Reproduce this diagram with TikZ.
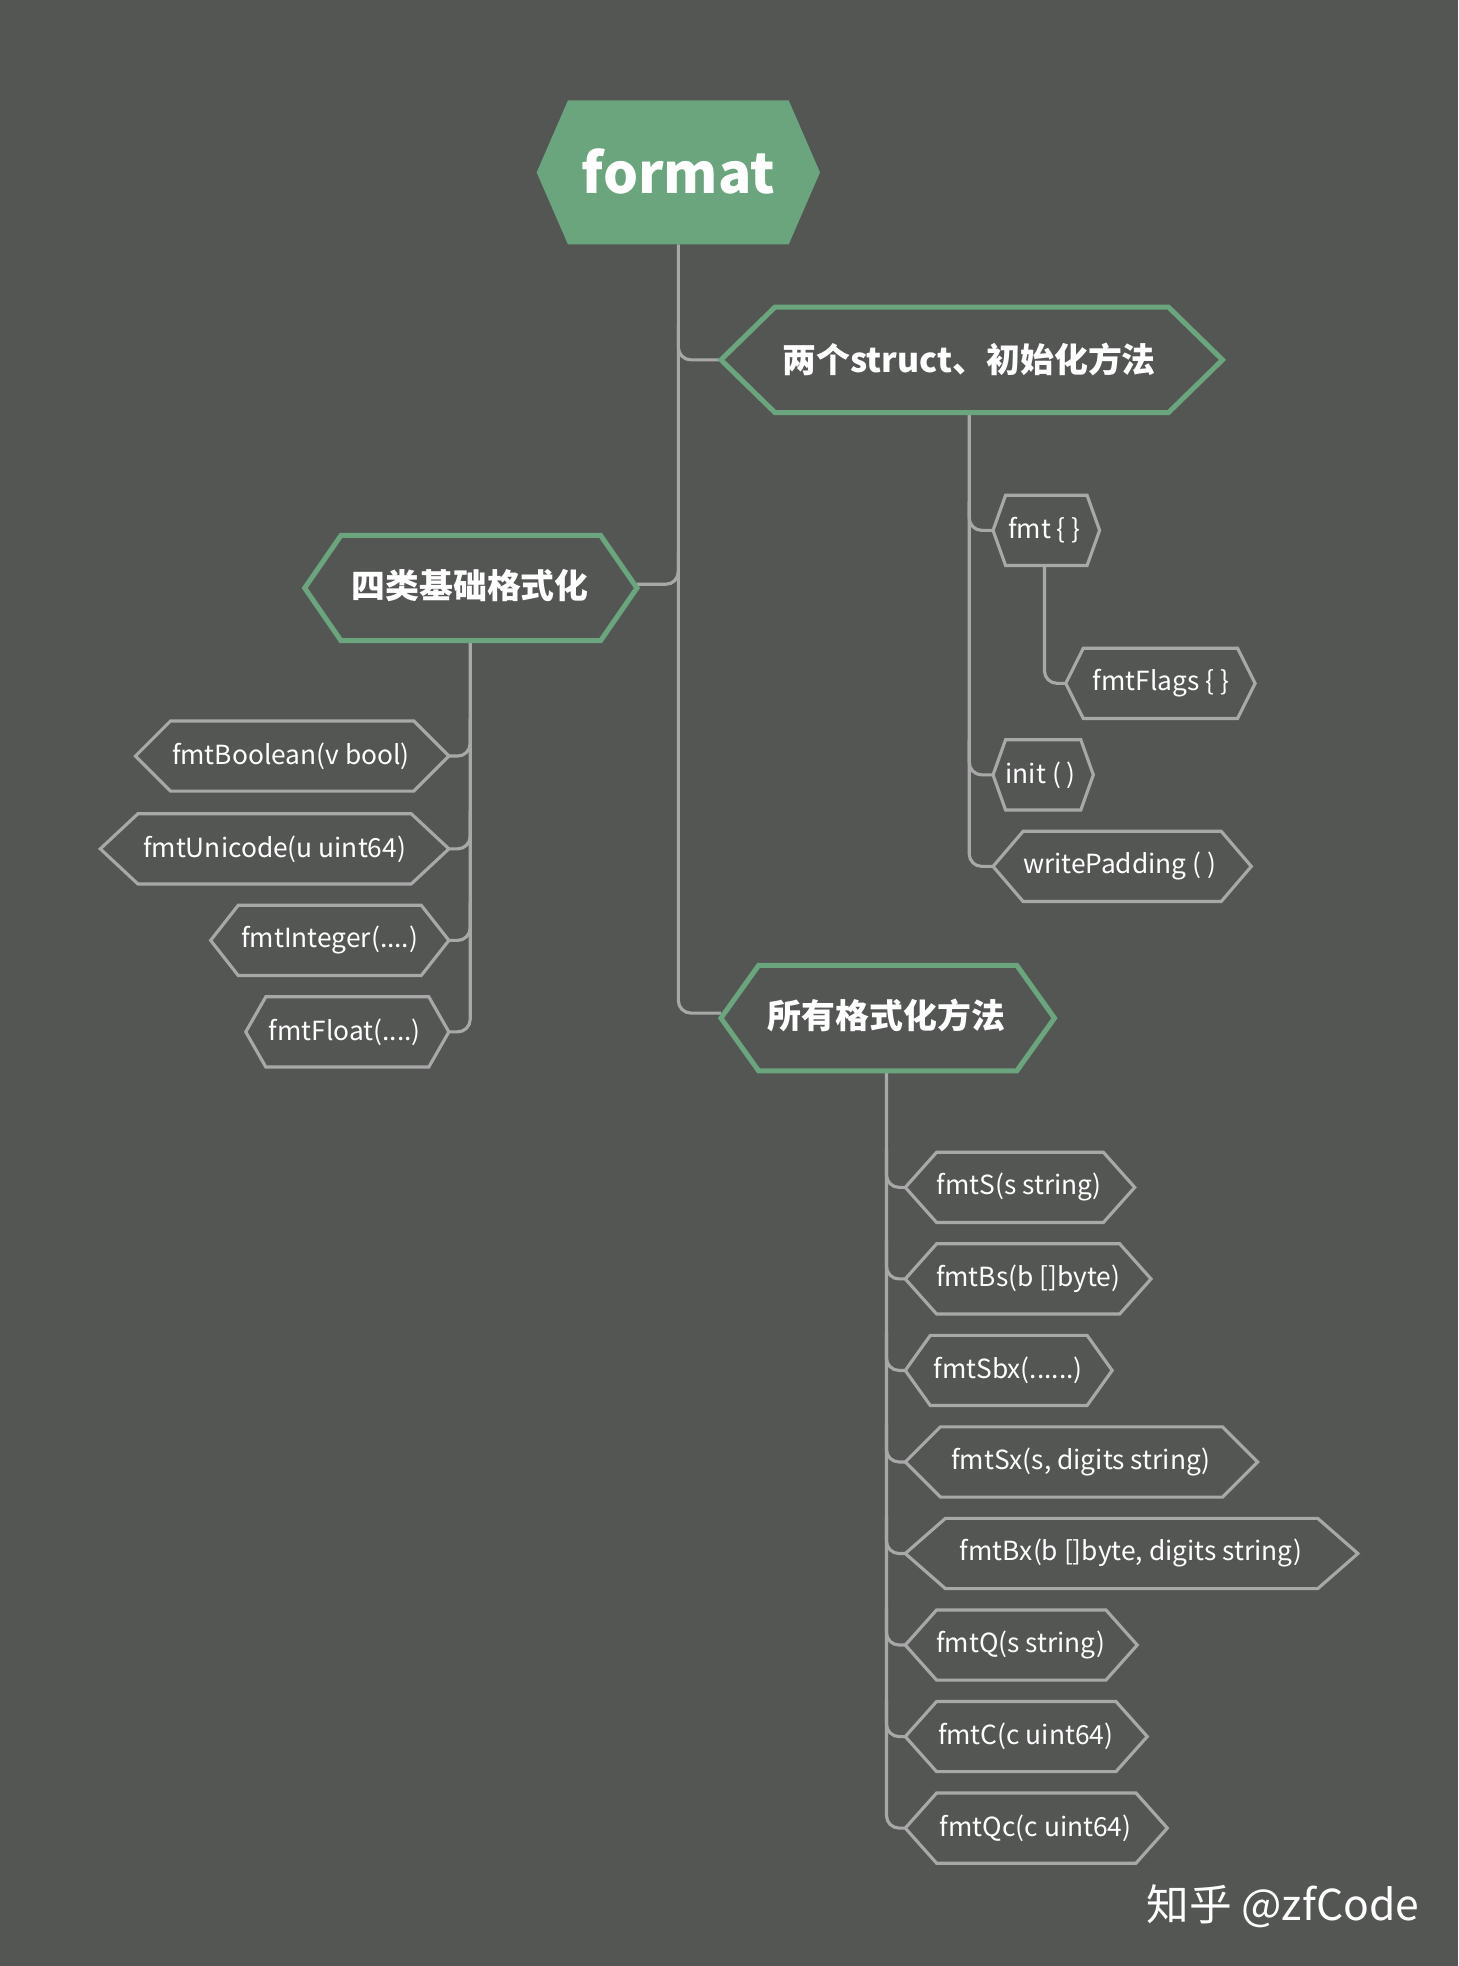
\documentclass[tikz,border=0pt]{standalone}
\usepackage{fontspec}
\setmainfont{Noto Sans CJK SC}
\definecolor{bg}{HTML}{545654}
\definecolor{gr}{HTML}{6AA57D}
\definecolor{ln}{HTML}{A8A8A8}
\begin{document}
\begin{tikzpicture}[x=1pt,y=-1pt,
  lab/.style={inner sep=0pt,text=white,font=\fontsize{21}{24}\selectfont},
  big/.style={inner sep=0pt,text=white,font=\fontsize{27}{30}\selectfont\bfseries},
  conn/.style={draw=ln,line width=2.5pt,rounded corners=10pt}]
\fill[bg] (0,0) rectangle (1163,1568);
\useasboundingbox (0,0) rectangle (1163,1568);
\newcommand\hexa[7]{%
  \path[#7] (#2,#4) -- (#2+#6,#4-#5) -- (#3-#6,#4-#5) -- (#3,#4) -- (#3-#6,#4+#5) -- (#2+#6,#4+#5) -- cycle;
  \coordinate (#1-w) at (#2,#4); \coordinate (#1-e) at (#3,#4);
  \coordinate (#1-s) at ({(#2+#3)/2},#4+#5);}
\tikzset{gbox/.style={draw=gr,line width=4pt,fill=bg,line join=miter},
  sbox/.style={draw=ln,line width=2.5pt,fill=bg},
  fbox/.style={fill=gr}}
% connectors
\draw[conn] (541,195) -- (541,808) -- (575,808);
\draw[conn] (541,260) -- (541,287) -- (575,287);
\draw[conn] (541,440) -- (541,466) -- (508,466);
\draw[conn] (773,329) -- (773,691) -- (792,691);
\draw[conn] (773,400) -- (773,423) -- (792,423);
\draw[conn] (773,590) -- (773,618) -- (792,618);
\draw[conn] (833,451) -- (833,545) -- (850,545);
\draw[conn] (375,511) -- (375,823) -- (358,823);
\foreach \y in {603,677,750}{\draw[conn] (375,\y-30) -- (375,\y) -- (358,\y);}
\draw[conn] (707,854) -- (707,1458) -- (722,1458);
\foreach \y in {947,1020,1093,1166,1239,1312,1385}{\draw[conn] (707,\y-30) -- (707,\y) -- (722,\y);}
% main nodes
\hexa{f}{428}{654}{137.5}{57.5}{25}{fbox}
\node[inner sep=0pt,text=white,font=\fontsize{44}{48}\selectfont\bfseries] (format) at (541,137) {format};
\hexa{a}{575}{975}{287}{42}{43}{gbox}
\node[big] (two) at (773,287) {两个struct、初始化方法};
\hexa{b}{243}{508}{469}{42}{29}{gbox}
\node[big] (four) at (375,467) {四类基础格式化};
\hexa{c}{575}{841}{812}{42}{30}{gbox}
\node[big] (all) at (707,810) {所有格式化方法};
% small nodes
\hexa{n1}{792}{877}{423}{28}{10}{sbox}\node[lab] (fmt) at (833,423) {fmt \{ \}};
\hexa{n2}{850}{1001}{545}{28}{14}{sbox}\node[lab] (flags) at (926,545) {fmtFlags \{ \}};
\hexa{n3}{792}{872}{618}{28}{10}{sbox}\node[lab] (init) at (830,618) {init ( )};
\hexa{n4}{792}{998}{691}{28}{24}{sbox}\node[lab] (wp) at (893,691) {writePadding ( )};
\hexa{l1}{108}{358}{603}{28}{28}{sbox}\node[lab] (bool) at (232,603) {fmtBoolean(v bool)};
\hexa{l2}{80}{358}{677}{28}{30}{sbox}\node[lab] (uni) at (219,677) {fmtUnicode(u uint64)};
\hexa{l3}{168}{358}{750}{28}{22}{sbox}\node[lab] (int) at (263,750) {fmtInteger(....)};
\hexa{l4}{196}{358}{823}{28}{16}{sbox}\node[lab] (flt) at (275,823) {fmtFloat(....)};
\hexa{r1}{722}{905}{947}{28}{25}{sbox}\node[lab] (s1) at (813,947) {fmtS(s string)};
\hexa{r2}{722}{918}{1020}{28}{25}{sbox}\node[lab] (s2) at (820,1020) {fmtBs(b []byte)};
\hexa{r3}{722}{887}{1093}{28}{20}{sbox}\node[lab] (s3) at (804,1093) {fmtSbx(......)};
\hexa{r4}{722}{1003}{1166}{28}{28}{sbox}\node[lab] (s4) at (862,1166) {fmtSx(s, digits string)};
\hexa{r5}{722}{1083}{1239}{28}{32}{sbox}\node[lab] (s5) at (902,1239) {fmtBx(b []byte, digits string)};
\hexa{r6}{722}{907}{1312}{28}{25}{sbox}\node[lab] (s6) at (814,1312) {fmtQ(s string)};
\hexa{r7}{722}{915}{1385}{28}{25}{sbox}\node[lab] (s7) at (818,1385) {fmtC(c uint64)};
\hexa{r8}{722}{931}{1458}{28}{25}{sbox}\node[lab] (s8) at (826,1458) {fmtQc(c uint64)};
\node[inner sep=0pt,text=white,font=\fontsize{34}{38}\selectfont,anchor=east] (wm) at (1132,1520) {知乎 @zfCode};
\end{tikzpicture}
\end{document}
